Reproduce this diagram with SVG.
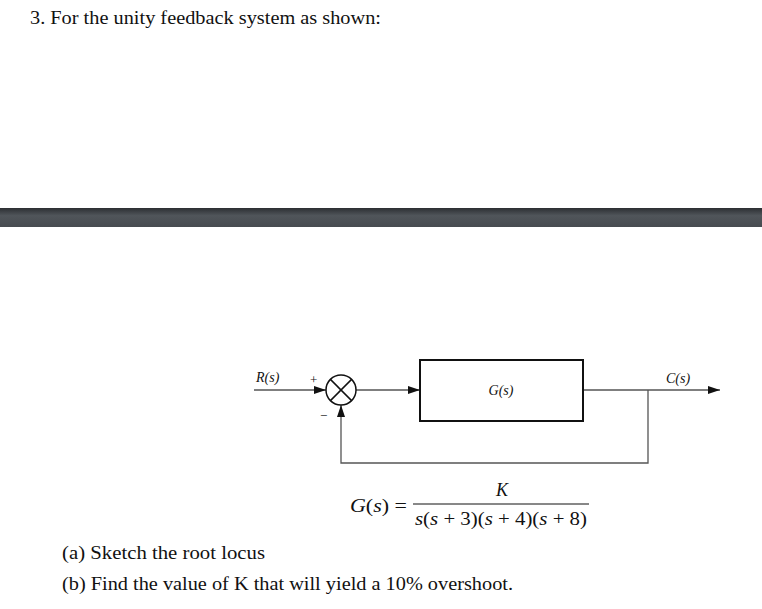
<svg xmlns="http://www.w3.org/2000/svg" width="762" height="609" viewBox="0 0 762 609">
<defs>
<linearGradient id="bar" x1="0" y1="0" x2="0" y2="1"><stop offset="0" stop-color="#2c2f33"/><stop offset="0.4" stop-color="#50555a"/><stop offset="1" stop-color="#474b50"/></linearGradient>
<marker id="ah" markerWidth="12" markerHeight="8" refX="12" refY="4" orient="auto" markerUnits="userSpaceOnUse"><path d="M0,0 L12,4 L0,8 Z" fill="#111"/></marker>
</defs>
<style>
.serif{font-family:"Liberation Serif","DejaVu Serif",serif;fill:#111}
.t{font-size:18px}
.l{font-size:14px;font-style:italic}
.line{stroke:#555;stroke-width:1.3;fill:none}
</style>
<rect width="762" height="609" fill="#fff"/>
<text class="serif t" x="30" y="24" textLength="351" lengthAdjust="spacingAndGlyphs">3. For the unity feedback system as shown:</text>
<rect x="0" y="208" width="762" height="19" fill="url(#bar)"/>
<g id="connectors">
<line class="line" x1="254" y1="390" x2="326" y2="390" marker-end="url(#ah)"/>
<line class="line" x1="356" y1="390" x2="420" y2="390" marker-end="url(#ah)"/>
<line class="line" x1="583" y1="390" x2="720" y2="390" marker-end="url(#ah)"/>
<polyline class="line" points="648,390 648,463 341,463 341,405" marker-end="url(#ah)"/>
</g>
<g id="sum">
<circle cx="341" cy="390" r="15" fill="#fff" stroke="#111" stroke-width="1.5"/>
<line x1="330.4" y1="379.4" x2="351.6" y2="400.6" stroke="#111" stroke-width="1.5"/>
<line x1="351.6" y1="379.4" x2="330.4" y2="400.6" stroke="#111" stroke-width="1.5"/>
<text class="serif" x="310" y="384" font-size="13">+</text>
<text class="serif" x="320" y="420" font-size="13">−</text>
</g>
<g id="G">
<rect x="420" y="360" width="163" height="61" fill="#fff" stroke="#111" stroke-width="2"/>
<text class="serif l" x="501" y="395" text-anchor="middle" font-style="normal">G(<tspan font-style="italic">s</tspan>)</text>
</g>
<text class="serif l" x="256" y="382">R(s)</text>
<text class="serif l" x="666" y="383">C(s)</text>
<text class="serif t" x="350" y="512" textLength="57" lengthAdjust="spacingAndGlyphs"><tspan font-style="italic">G</tspan>(<tspan font-style="italic">s</tspan>) =</text>
<text class="serif t" x="502" y="496" text-anchor="middle" font-style="italic">K</text>
<line x1="413" y1="504" x2="589" y2="504" stroke="#111" stroke-width="1"/>
<text class="serif t" x="415" y="525" textLength="172" lengthAdjust="spacingAndGlyphs"><tspan font-style="italic">s</tspan>(<tspan font-style="italic">s</tspan> + 3)(<tspan font-style="italic">s</tspan> + 4)(<tspan font-style="italic">s</tspan> + 8)</text>
<text class="serif t" x="62" y="559" textLength="203" lengthAdjust="spacingAndGlyphs">(a) Sketch the root locus</text>
<text class="serif t" x="62" y="590" textLength="451" lengthAdjust="spacingAndGlyphs">(b) Find the value of K that will yield a 10% overshoot.</text>
</svg>
